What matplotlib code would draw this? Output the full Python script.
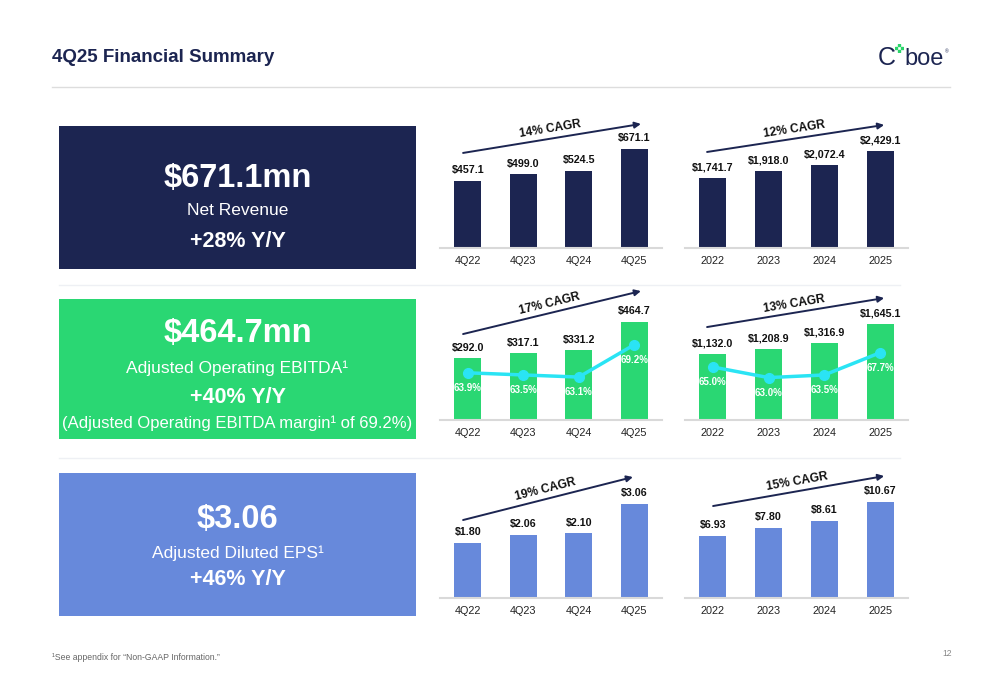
import math
import matplotlib
matplotlib.use("Agg")
import matplotlib.pyplot as plt
from matplotlib.lines import Line2D

plt.rcParams['font.family'] = ['Liberation Sans', 'DejaVu Sans']

# data
quarters = ['4Q22', '4Q23', '4Q24', '4Q25']
years = ['2022', '2023', '2024', '2025']
rev_q = [457.1, 499.0, 524.5, 671.1]
rev_y = [1741.7, 1918.0, 2072.4, 2429.1]
ebitda_q = [292.0, 317.1, 331.2, 464.7]
ebitda_y = [1132.0, 1208.9, 1316.9, 1645.1]
margin_q = [63.9, 63.5, 63.1, 69.2]
margin_y = [65.0, 63.0, 63.5, 67.7]
eps_q = [1.80, 2.06, 2.10, 3.06]
eps_y = [6.93, 7.80, 8.61, 10.67]
cagr = ['14% CAGR', '12% CAGR', '17% CAGR', '13% CAGR', '19% CAGR', '15% CAGR']

NAVY = '#1c2551'
GREEN = '#2ad773'
BLUE = '#6789db'
CYAN = '#2ae4f4'

W, H = 1000, 685
fig = plt.figure(figsize=(10, 6.85), dpi=100)


def rect(x0, y0, x1, y1):
    return [x0 / W, 1 - y1 / H, (x1 - x0) / W, (y1 - y0) / H]


# header
fig.text(52 / W, 1 - 57 / H, '4Q25 Financial Summary', fontsize=13.5, fontweight='bold',
         color=NAVY, va='center', ha='left')
fig.add_artist(Line2D([52 / W, 950 / W], [1 - 87 / H] * 2, color='#dddddd', lw=1))
fig.text(878 / W, 1 - 58 / H, 'C', fontsize=18, color=NAVY, va='center', ha='left')
fig.text(904 / W, 1 - 59 / H, 'boe', fontsize=17, color=NAVY, va='center', ha='left')
fig.text(945 / W, 1 - 52 / H, '®', fontsize=3.5, color=NAVY, va='center', ha='left')
logo = fig.add_axes(rect(895, 44, 903, 52))
logo.scatter([0, 1, 0, -1], [1, 0, -1, 0], s=3, color='#2bd46a', marker='s')
logo.set_xlim(-1.5, 1.5)
logo.set_ylim(-1.5, 1.5)
logo.axis('off')

# separators between rows
for yy in [285, 458]:
    fig.add_artist(Line2D([59 / W, 900 / W], [1 - yy / H] * 2, color='#eef0f4', lw=1))

# left boxes
boxes = [
    ((59, 126, 416, 269), NAVY, [('$671.1mn', 23.5, 'bold', 0.636),
                                 ('Net Revenue', 12.5, 'normal', 0.406),
                                 ('+28% Y/Y', 15.5, 'bold', 0.189)]),
    ((59, 299, 416, 439), GREEN, [('$464.7mn', 23.5, 'bold', 0.757),
                                  ('Adjusted Operating EBITDA¹', 12.5, 'normal', 0.507),
                                  ('+40% Y/Y', 15.5, 'bold', 0.293),
                                  ('(Adjusted Operating EBITDA margin¹ of 69.2%)', 12, 'normal', 0.114)]),
    ((59, 473, 416, 616), BLUE, [('$3.06', 23.5, 'bold', 0.678),
                                 ('Adjusted Diluted EPS¹', 12.5, 'normal', 0.441),
                                 ('+46% Y/Y', 15.5, 'bold', 0.252)]),
]
for (x0, y0, x1, y1), col, lines in boxes:
    bx = fig.add_axes(rect(x0, y0, x1, y1))
    bx.set_facecolor(col)
    bx.set_xticks([])
    bx.set_yticks([])
    for s in bx.spines.values():
        s.set_visible(False)
    for txt, fs, fw, yf in lines:
        bx.text(0.5, yf, txt, fontsize=fs, fontweight=fw, color='white',
                ha='center', va='center', transform=bx.transAxes)

# charts
baselines = [248, 420, 598]
cols = [(440, 662), (685, 908)]
AX_H = 140
charts = [
    (rev_q, quarters, NAVY, 'rev', None, 99, ((0.104, 0.679), (0.905, 0.886))),
    (rev_y, years, NAVY, 'rev', None, 97, ((0.099, 0.686), (0.893, 0.879))),
    (ebitda_q, quarters, GREEN, 'rev', margin_q, 98, ((0.104, 0.614), (0.905, 0.921))),
    (ebitda_y, years, GREEN, 'rev', margin_y, 96, ((0.099, 0.664), (0.893, 0.871))),
    (eps_q, quarters, BLUE, 'eps', None, 94, ((0.104, 0.557), (0.869, 0.864))),
    (eps_y, years, BLUE, 'eps', None, 96, ((0.126, 0.657), (0.893, 0.871))),
]

for i, (vals, cats, col, fmt, margin, tall_px, arrow) in enumerate(charts):
    row, c = divmod(i, 2)
    xl, xr = cols[c]
    base = baselines[row]
    ax = fig.add_axes(rect(xl, base - AX_H, xr, base))
    x = list(range(len(vals)))
    bars = ax.bar(x, vals, width=0.48, color=col)
    ax.set_xlim(-0.5, 3.5)
    ax.set_ylim(0, max(vals) * AX_H / tall_px)
    for s in ['top', 'left', 'right']:
        ax.spines[s].set_visible(False)
    ax.spines['bottom'].set_color('#d9d9d9')
    ax.spines['bottom'].set_linewidth(1.5)
    ax.set_yticks([])
    ax.set_xticks(x)
    ax.set_xticklabels(cats, fontsize=7.8, color='#222222')
    ax.tick_params(axis='x', length=0, pad=6)
    ax.patch.set_visible(False)
    for b, v in zip(bars, vals):
        lab = f'${v:,.1f}' if fmt == 'rev' else f'${v:.2f}'
        ax.annotate(lab, (b.get_x() + b.get_width() / 2, v), xytext=(0, 4),
                    textcoords='offset points', ha='center', va='bottom',
                    fontsize=7.7, fontweight='bold', color='#111111')

    # CAGR arrow
    (sx, sy), (ex, ey) = arrow
    ax.annotate('', xy=(ex, ey), xytext=(sx, sy), xycoords='axes fraction',
                arrowprops=dict(arrowstyle='-|>', color=NAVY, lw=1.4,
                                mutation_scale=9, shrinkA=0, shrinkB=0),
                annotation_clip=False)
    wpx = xr - xl
    ang = math.degrees(math.atan2((ey - sy) * AX_H, (ex - sx) * wpx))
    off = 6.5
    ax.annotate(cagr[i], ((sx + ex) / 2, (sy + ey) / 2), xycoords='axes fraction',
                xytext=(-math.sin(math.radians(ang)) * off, math.cos(math.radians(ang)) * off),
                textcoords='offset points', rotation=ang, rotation_mode='anchor',
                ha='center', va='center', fontsize=8.6, fontweight='bold', color='#111111',
                annotation_clip=False)

    if margin is not None:
        ax2 = ax.twinx()
        ax2.set_ylim(55, 55 + AX_H / 5.3)
        ax2.axis('off')
        ax2.plot(x, margin, color=CYAN, lw=2.5, marker='o', markersize=7)
        for xi, m in zip(x, margin):
            ax2.annotate(f'{m:.1f}%', (xi, m), xytext=(0, -11), textcoords='offset points',
                         ha='center', va='center', fontsize=7, fontweight='bold', color='white')

# footer
fig.text(52 / W, 1 - 658 / H, '¹See appendix for “Non-GAAP Information.”', fontsize=6.2,
         color='#666666', va='center', ha='left')
fig.text(942 / W, 1 - 654 / H, '12', fontsize=6.2, color='#888888', va='center', ha='left')

fig.savefig('out.png', dpi=100)
